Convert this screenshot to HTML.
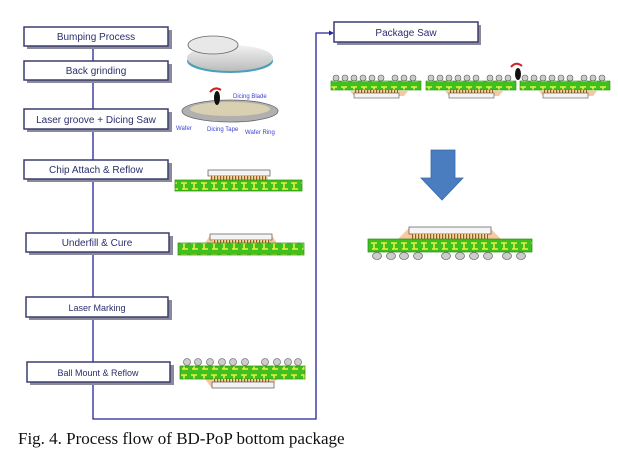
<!DOCTYPE html>
<html><head><meta charset="utf-8"><style>
html,body{margin:0;padding:0;background:#fff;}
svg{display:block;}
.bt{font-family:"Liberation Sans",sans-serif;font-size:10px;fill:#2b2f6b;text-anchor:middle;}
.lb{font-family:"Liberation Sans",sans-serif;font-size:6px;fill:#3a3fd0;}
</style></head><body>
<svg width="618" height="461" viewBox="0 0 618 461" xmlns="http://www.w3.org/2000/svg">
<defs>
<pattern id="sub" width="10" height="12" patternUnits="userSpaceOnUse">
<rect width="10" height="12" fill="#3fc020"/>
<path d="M1 3h6M4 3v6M2 9h6" stroke="#e8f040" stroke-width="1.6" fill="none"/>
</pattern>
<pattern id="bump" width="3" height="5" patternUnits="userSpaceOnUse">
<rect width="3" height="5" fill="#f0d8a0"/><rect x="1" width="1.2" height="5" fill="#9a5a20"/>
</pattern>
<linearGradient id="wf" x1="0" y1="0" x2="0" y2="1"><stop offset="0" stop-color="#f2f2f2"/><stop offset="1" stop-color="#bcbcbc"/></linearGradient>
</defs>
<g stroke="#23239a" stroke-width="1.3" fill="none">
<path d="M93 46V419H316V33H330"/>
</g>
<path d="M334 33l-5-2.5v5z" fill="#23239a"/>
<!-- boxes -->
<g>
<rect x="27" y="30" width="145" height="19" fill="#8a8a9a"/>
<rect x="24" y="27" width="144" height="19" fill="#fff" stroke="#3a3d6e" stroke-width="1.5"/>
<text class="bt" x="96" y="40">Bumping  Process</text>
<rect x="27" y="64" width="145" height="19" fill="#8a8a9a"/>
<rect x="24" y="61" width="144" height="19" fill="#fff" stroke="#3a3d6e" stroke-width="1.5"/>
<text class="bt" x="96" y="74">Back grinding</text>
<rect x="27" y="112" width="145" height="20" fill="#8a8a9a"/>
<rect x="24" y="109" width="144" height="20" fill="#fff" stroke="#3a3d6e" stroke-width="1.5"/>
<text class="bt" x="96" y="123">Laser groove + Dicing Saw</text>
<rect x="27" y="163" width="145" height="19" fill="#8a8a9a"/>
<rect x="24" y="160" width="144" height="19" fill="#fff" stroke="#3a3d6e" stroke-width="1.5"/>
<text class="bt" x="96" y="173">Chip Attach &amp; Reflow</text>
<rect x="29" y="236" width="144" height="19" fill="#8a8a9a"/>
<rect x="26" y="233" width="143" height="19" fill="#fff" stroke="#3a3d6e" stroke-width="1.5"/>
<text class="bt" x="97" y="246">Underfill &amp; Cure</text>
<rect x="29" y="300" width="143" height="20" fill="#8a8a9a"/>
<rect x="26" y="297" width="142" height="20" fill="#fff" stroke="#3a3d6e" stroke-width="1.5"/>
<text class="bt" x="97" y="311" style="font-size:9px">Laser Marking</text>
<rect x="30" y="365" width="144" height="20" fill="#8a8a9a"/>
<rect x="27" y="362" width="143" height="20" fill="#fff" stroke="#3a3d6e" stroke-width="1.5"/>
<text class="bt" x="98" y="376" style="font-size:9px">Ball Mount &amp; Reflow</text>
<rect x="337" y="25" width="144" height="20" fill="#8a8a9a"/>
<rect x="334" y="22" width="144" height="20" fill="#fff" stroke="#3a3d6e" stroke-width="1.5"/>
<text class="bt" x="406" y="36">Package Saw</text>
</g>
<!-- wafer -->
<ellipse cx="230" cy="61" rx="43" ry="12" fill="#4aa0b8"/>
<ellipse cx="230" cy="58" rx="43" ry="13" fill="url(#wf)"/>
<ellipse cx="213" cy="45" rx="25" ry="9" fill="#e8e8e8" stroke="#666" stroke-width="0.8"/>
<!-- dicing -->
<ellipse cx="230" cy="111" rx="48" ry="11" fill="#b0b0b0" stroke="#666" stroke-width="0.8"/>
<ellipse cx="230" cy="109" rx="40" ry="7" fill="#d8d0b0"/>
<ellipse cx="217" cy="98" rx="3" ry="7" fill="#111"/>
<path d="M210 92q5-6 11-2" stroke="#d02020" stroke-width="2" fill="none"/>
<text class="lb" x="233" y="98">Dicing Blade</text>
<text class="lb" x="176" y="130">Wafer</text>
<text class="lb" x="207" y="131">Dicing Tape</text>
<text class="lb" x="245" y="134">Wafer Ring</text>
<!-- chip attach -->
<rect x="208" y="170" width="62" height="6" fill="#f4f4f4" stroke="#555" stroke-width="0.7"/>
<rect x="210" y="176" width="58" height="4" fill="url(#bump)"/>
<rect x="175" y="180" width="127" height="11" fill="url(#sub)" stroke="#2a8a10" stroke-width="0.7"/>
<!-- underfill -->
<path d="M205 243l6-9h60l6 9z" fill="#f8c8a0"/>
<rect x="210" y="234" width="62" height="6" fill="#f4f4f4" stroke="#555" stroke-width="0.7"/>
<rect x="212" y="240" width="58" height="3" fill="url(#bump)"/>
<rect x="178" y="243" width="126" height="12" fill="url(#sub)" stroke="#2a8a10" stroke-width="0.7"/>
<!-- ball mount -->
<g fill="#ccc" stroke="#555" stroke-width="0.6">
<circle cx="187" cy="362" r="3.5"/><circle cx="198" cy="362" r="3.5"/><circle cx="210" cy="362" r="3.5"/><circle cx="222" cy="362" r="3.5"/><circle cx="233" cy="362" r="3.5"/><circle cx="245" cy="362" r="3.5"/>
<circle cx="265" cy="362" r="3.5"/><circle cx="277" cy="362" r="3.5"/><circle cx="288" cy="362" r="3.5"/><circle cx="298" cy="362" r="3.5"/>
</g>
<path d="M205 379l6 8h60l6-8z" fill="#f8c8a0"/>
<rect x="180" y="366" width="125" height="13" fill="url(#sub)" stroke="#2a8a10" stroke-width="0.7"/>
<rect x="213" y="379" width="58" height="3" fill="url(#bump)"/>
<rect x="212" y="382" width="62" height="6" fill="#f4f4f4" stroke="#555" stroke-width="0.7"/>
<!-- strips -->
<g id="strip">
<g fill="#ccc" stroke="#555" stroke-width="0.6">
<circle cx="336" cy="78" r="3"/><circle cx="345" cy="78" r="3"/><circle cx="354" cy="78" r="3"/><circle cx="363" cy="78" r="3"/><circle cx="372" cy="78" r="3"/><circle cx="381" cy="78" r="3"/>
<circle cx="395" cy="78" r="3"/><circle cx="404" cy="78" r="3"/><circle cx="413" cy="78" r="3"/>
</g>
<path d="M350 91l4 5h50l4-5z" fill="#f8c8a0"/>
<rect x="331" y="81" width="90" height="9" fill="url(#sub)" stroke="#2a8a10" stroke-width="0.6"/>
<rect x="355" y="90" width="43" height="3" fill="url(#bump)"/>
<rect x="354" y="93" width="45" height="5" fill="#f4f4f4" stroke="#555" stroke-width="0.6"/>
</g>
<use href="#strip" x="95"/>
<use href="#strip" x="189"/>
<ellipse cx="518" cy="74" rx="3" ry="6" fill="#111"/>
<path d="M511 67q5-6 11-1" stroke="#d02020" stroke-width="2" fill="none"/>
<!-- blue arrow -->
<path d="M431 150h24v28h8l-21 22l-21-22h10z" fill="#4a7cc0" stroke="#3a6aa8" stroke-width="0.8"/>
<!-- final -->
<path d="M398 239l11-11h81l11 11z" fill="#f8c8a0"/>
<rect x="409" y="227" width="82" height="7" fill="#f4f4f4" stroke="#555" stroke-width="0.7"/>
<rect x="412" y="234" width="76" height="5" fill="url(#bump)"/>
<rect x="368" y="239" width="164" height="13" fill="url(#sub)" stroke="#2a8a10" stroke-width="0.7"/>
<g fill="#ccc" stroke="#555" stroke-width="0.6">
<ellipse cx="377" cy="256" rx="4.5" ry="3.5"/><ellipse cx="391" cy="256" rx="4.5" ry="3.5"/><ellipse cx="404" cy="256" rx="4.5" ry="3.5"/><ellipse cx="418" cy="256" rx="4.5" ry="3.5"/>
<ellipse cx="446" cy="256" rx="4.5" ry="3.5"/><ellipse cx="460" cy="256" rx="4.5" ry="3.5"/><ellipse cx="474" cy="256" rx="4.5" ry="3.5"/><ellipse cx="488" cy="256" rx="4.5" ry="3.5"/><ellipse cx="507" cy="256" rx="4.5" ry="3.5"/><ellipse cx="521" cy="256" rx="4.5" ry="3.5"/>
</g>
<text x="18" y="444" style="font-family:'Liberation Serif',serif;font-size:17px;fill:#111">Fig. 4. Process flow of BD-PoP bottom package</text>
</svg>
</body></html>
